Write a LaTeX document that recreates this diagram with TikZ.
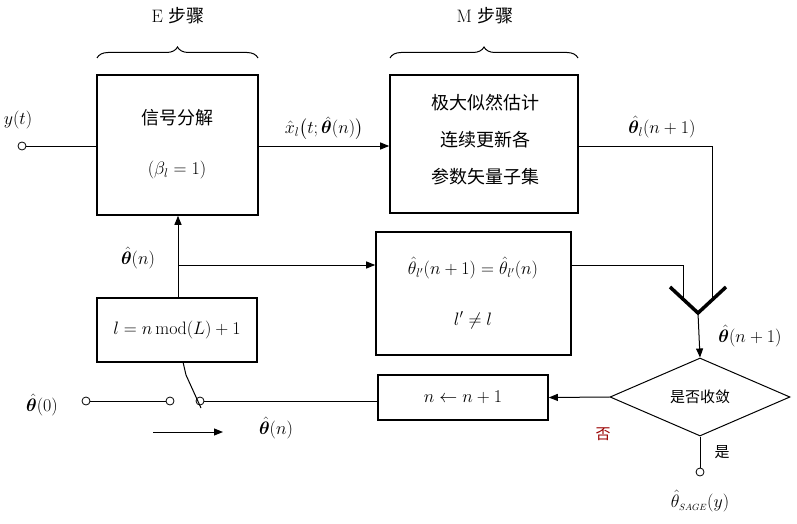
\RequirePackage{fix-cm}
\documentclass[tikz,border=0pt]{standalone}
\usepackage{amsmath,bm}
\usepackage{fontspec}
\newfontfamily\cjk{Noto Sans CJK SC}
\usetikzlibrary{shapes.geometric,decorations.pathreplacing,arrows.meta}
\begin{document}
\begin{tikzpicture}[x=1pt,y=-1pt,font=\fontsize{18}{21}\selectfont,
  box/.style={draw,line width=1.6pt,inner sep=0pt},
  arr/.style={-{Triangle[length=9pt,width=7pt]}},
  ln/.style={line width=1pt},
  term/.style={circle,draw,line width=0.8pt,inner sep=0pt,minimum size=8pt,fill=white}]
\useasboundingbox (0,0) rectangle (797,524);
% boxes
\node[box,minimum width=161pt,minimum height=140pt] (E) at (177.5,145) {};
\node[box,minimum width=188pt,minimum height=138pt] (M) at (484,144) {};
\node[box,minimum width=195pt,minimum height=123pt] (T) at (473.5,293.5) {};
\node[box,minimum width=170pt,minimum height=45pt] (N) at (463,397.5) {$n\leftarrow n+1$};
\node[box,minimum width=160pt,minimum height=64pt] (Md) at (177,330) {$l=n\,\mathrm{mod}(L)+1$};
\node[draw,diamond,aspect=2.3,minimum width=180pt,minimum height=78pt,inner sep=0pt,line width=1pt] (D) at (700,397) {\cjk\fontsize{15}{17}\selectfont 是否收敛};
% texts in boxes
\node at (177,118) {\cjk 信号分解};
\node at (177,170) {$(\beta_l=1)$};
\node at (485,103) {\cjk 极大似然估计};
\node at (485,140) {\cjk 连续更新各};
\node at (485,177) {\cjk 参数矢量子集};
\node at (473,268) {$\hat\theta_{l'}(n+1)=\hat\theta_{l'}(n)$};
\node at (473,320) {$l'\neq l$};
% braces
\draw[decorate,decoration={brace,amplitude=11pt},line width=1pt] (97,58) -- (258,58);
\draw[decorate,decoration={brace,amplitude=11pt},line width=1pt] (390,58) -- (578,58);
\node at (178,16) {E \cjk 步骤};
\node at (485,16) {M \cjk 步骤};
% input
\node[term] (yt) at (22,146) {};
\node at (18,120) {$y(t)$};
\draw[ln] (yt) -- (E.west |- yt);
\draw[ln,arr] (E.east |- 0,146) -- (M.west |- 0,146) node[midway,above=2pt] {$\hat x_l\big(t;\hat{\bm\theta}(n)\big)$};
% M output to combiner
\coordinate (Vl) at (670,287);
\coordinate (Vv) at (698,313);
\coordinate (Vr) at (726,287);
\draw[line width=3.5pt] (Vl) -- (Vv) -- (Vr);
\draw[ln] (M.east |- 0,146) -- (712,146) -- (712,300);
\node at (662,127) {$\hat{\bm\theta}_l(n+1)$};
\draw[ln] (T.east |- 0,265) -- (683,265) -- (683,300);
\draw[ln,arr] (Vv) -- (D.north);
\node at (750,336) {$\hat{\bm\theta}(n+1)$};
% diamond outputs
\draw[ln,arr] (D.west) -- (N.east);
\node[text=red!60!black] at (603,434) {\cjk\fontsize{15}{17}\selectfont 否};
\node[term] (out) at (700,472) {};
\draw[ln] (D.south) -- (out);
\node at (722,452) {\cjk\fontsize{15}{17}\selectfont 是};
\node at (700,501) {$\hat\theta_{\scriptscriptstyle SAGE}(y)$};
% feedback and switch
\node[term] (s2) at (200,401) {};
\node[term] (s1) at (170,401) {};
\node[term] (t0) at (86,401) {};
\node at (42,405) {$\hat{\bm\theta}(0)$};
\draw[ln] (N.west |- s2) -- (s2);
\draw[ln] (t0) -- (s1);
\draw[ln] (183,362) -- (186,375) -- (201,408);
\draw[ln,arr] (153,432) -- (223,432);
\node at (276,428) {$\hat{\bm\theta}(n)$};
% theta(n) feed
\coordinate (J) at (178,265);
\draw[ln,arr] (Md.north -| J) -- (E.south -| J);
\draw[ln,arr] (J) -- (T.west |- J);
\node at (138,258) {$\hat{\bm\theta}(n)$};
\end{tikzpicture}
\end{document}
